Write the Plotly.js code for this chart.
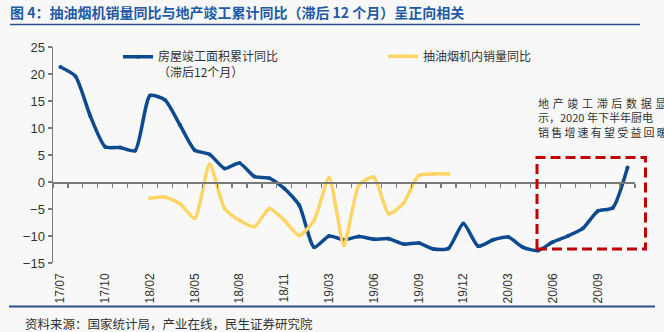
<!DOCTYPE html>
<html>
<head>
<meta charset="utf-8">
<script src="https://cdn.plot.ly/plotly-3.0.1.min.js"></script>
<style>html,body{margin:0;padding:0;background:#f8f8f8;}#chart{width:664px;height:332px;}</style>
</head>
<body>
<div id="chart"></div>
<script>
// ---- data ----
const months = ["17/07","17/08","17/09","17/10","17/11","17/12",
  "18/02","18/03","18/04","18/05","18/06","18/07","18/08","18/09","18/10","18/11","18/12",
  "19/02","19/03","19/04","19/05","19/06","19/07","19/08","19/09","19/10","19/11","19/12",
  "20/01","20/02","20/03","20/04","20/05","20/06","20/07","20/08","20/09","20/10","20/11"];
const tickLabels = ["17/07","17/10","18/02","18/05","18/08","18/11","19/03","19/06","19/09","19/12","20/03","20/06","20/09"];
const completionYoY = [21.3, 19.6, 12.2, 6.5, 6.4, 5.8, 16.0, 15.2, 10.6, 5.9, 5.1, 2.5, 3.5, 1.0, 0.7, -1.2, -4.3,
  -12.1, -10.0, -10.7, -10.1, -10.6, -10.5, -11.5, -11.3, -12.4, -12.3, -7.7,
  -11.9, -10.7, -10.2, -12.1, -12.7, -11.1, -10.0, -8.6, -5.4, -4.8, 2.7];
const hoodSalesYoY = [null, null, null, null, null, null, -3.0, -2.8, -4.0, -6.7, 3.3, -4.9, -7.1, -8.3, -4.9, -7.1, -9.9,
  -7.1, 0.8, -11.7, -0.6, 0.9, -5.9, -3.9, 1.2, 1.5, 1.5, null,
  null, null, null, null, null, null, null, null, null, null, null];
const seriesNames = ["房屋竣工面积累计同比<br>（滞后12个月）", "抽油烟机内销量同比"];
const titleText = "图 4：抽油烟机销量同比与地产竣工累计同比（滞后 12 个月）呈正向相关";
const sourceText = "资料来源：国家统计局，产业在线，民生证券研究院";
const noteLines = ["地产竣工滞后数据显", "示，2020 年下半年厨电", "销售增速有望受益回暖"];

// ---- layout helpers (pixel -> paper) ----
const W = 664, H = 332, L = 53, R = 29, T = 47, B = 69;
const PW = W - L - R, PH = H - T - B;
const px = x => (x - L) / PW;
const py = y => (H - B - y) / PH;
const spread = (s, gap) => s.split('').join(gap);
const noteText = spread(noteLines[0], '\u2004') + '<br>' + noteLines[1] + '<br>' + spread(noteLines[2], '\u2009');

const BLUE = '#0d4a8f', YELLOW = '#fdd566', AXIS = '#7a7a7a', TXT = '#333333';
const CJK = 'Noto Sans CJK SC, Noto Sans, sans-serif';
const LAT = 'Liberation Sans, Arial, sans-serif';

const traces = [
  {x: months, y: completionYoY, name: seriesNames[0], type: 'scatter', mode: 'lines+markers',
   line: {color: BLUE, width: 3.5, shape: 'spline', smoothing: 0.6}, marker: {color: BLUE, size: 4},
   xaxis: 'x', yaxis: 'y', legend: 'legend'},
  {x: months, y: hoodSalesYoY, name: seriesNames[1], type: 'scatter', mode: 'lines+markers',
   line: {color: YELLOW, width: 3.5, shape: 'spline', smoothing: 0.6}, marker: {color: YELLOW, size: 4},
   connectgaps: false, xaxis: 'x2', yaxis: 'y', legend: 'legend2'}
];

const legendBase = {orientation: 'v', xanchor: 'left', yanchor: 'top', bgcolor: 'rgba(0,0,0,0)',
  font: {family: CJK, size: 12, color: TXT}, valign: 'top', itemwidth: 30};

const layout = {
  width: W, height: H,
  margin: {l: L, r: R, t: T, b: B, pad: 0},
  paper_bgcolor: '#f8f8f8', plot_bgcolor: '#f8f8f8',
  title: {text: '<b>' + titleText + '</b>', font: {family: CJK, size: 14, color: '#1f5aa6'},
          xref: 'container', yref: 'container', x: 10 / W, xanchor: 'left', y: 1 - 13.5 / H, yanchor: 'middle'},
  showlegend: true,
  legend: Object.assign({}, legendBase, {x: px(118), y: py(42.5)}),
  legend2: Object.assign({}, legendBase, {x: px(383), y: py(42)}),
  xaxis: {type: 'category', categoryorder: 'array', categoryarray: months, range: [-0.5, 38.5],
          tickmode: 'array', tickvals: tickLabels, ticktext: tickLabels, tickangle: -90,
          showline: false, ticks: '', showgrid: false, zeroline: false,
          tickfont: {family: LAT, size: 12, color: TXT}, ticklabelstandoff: 7},
  xaxis2: {type: 'category', categoryorder: 'array', categoryarray: months, matches: 'x', overlaying: 'x',
           anchor: 'free', position: 15 / 40, side: 'bottom',
           showline: true, linecolor: AXIS, linewidth: 1.5, ticks: 'outside', ticklen: 4, tickwidth: 1.2,
           tickcolor: AXIS, tickson: 'boundaries', tickmode: 'linear', tick0: 0, dtick: 1,
           showticklabels: false, showgrid: false, zeroline: false},
  yaxis: {range: [-15, 25], tickmode: 'linear', tick0: -15, dtick: 5, ticks: 'outside', ticklen: 4,
          tickcolor: AXIS, tickwidth: 1.2, showline: true, linecolor: AXIS, linewidth: 1.5,
          showgrid: false, zeroline: false, tickfont: {family: LAT, size: 13, color: TXT}},
  shapes: [
    {type: 'line', xref: 'paper', yref: 'paper', x0: px(10), x1: px(640), y0: py(24.5), y1: py(24.5),
     line: {color: '#2b4f8a', width: 1.5}},
    {type: 'line', xref: 'paper', yref: 'paper', x0: px(9), x1: px(655), y0: py(306.5), y1: py(306.5),
     line: {color: '#2b4f8a', width: 2}},
    {type: 'rect', xref: 'paper', yref: 'paper', x0: px(537), x1: px(645.5), y0: py(249), y1: py(157.5),
     line: {color: '#c00000', width: 3, dash: '10px,5px'}, fillcolor: 'rgba(0,0,0,0)'}
  ],
  annotations: [
    {text: sourceText, xref: 'paper', yref: 'paper', x: px(23), y: py(323.5), xanchor: 'left', yanchor: 'middle',
     showarrow: false, font: {family: CJK, size: 12.5, color: TXT}},
    {text: noteText, xref: 'paper', yref: 'paper', x: px(536), y: py(117), xanchor: 'left', yanchor: 'middle',
     align: 'left', showarrow: false, font: {family: CJK, size: 11, color: TXT}}
  ]
};

Plotly.newPlot('chart', traces, layout, {displayModeBar: false, staticPlot: true});
</script>
</body>
</html>
